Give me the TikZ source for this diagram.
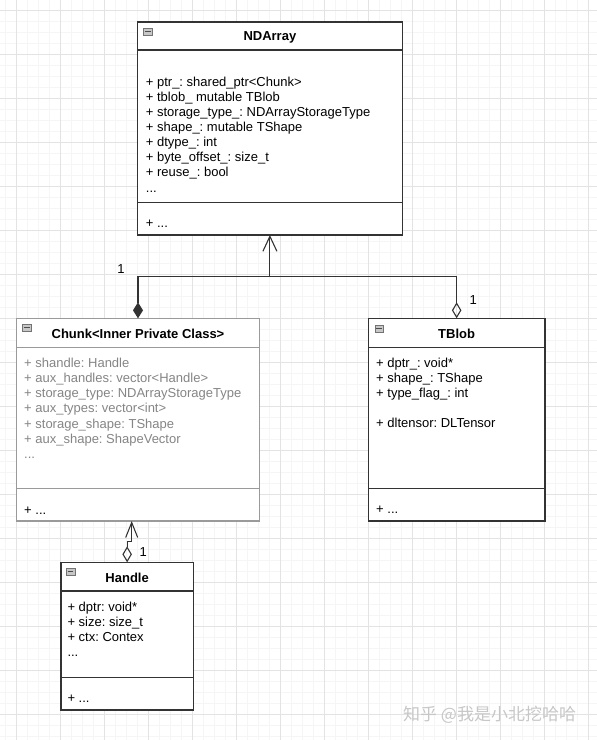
\documentclass[tikz,border=0pt]{standalone}
\usepackage{fontspec}
\setmainfont{Liberation Sans}
\newfontfamily\cjk{Noto Sans CJK SC}
\usetikzlibrary{arrows.meta}
\frenchspacing
\definecolor{umlline}{HTML}{333333}
\definecolor{umlgray}{HTML}{9A9A9A}
\definecolor{attrgray}{HTML}{858585}
\tikzset{
	classbox/.style={draw=#1, line width=1.1pt, fill=white, inner sep=0pt, outer sep=0pt},
	classbox/.default=umlline,
	boxline/.style={draw=#1, line width=1.1pt},
	boxline/.default=umlline,
	attr/.style={anchor=base west, inner sep=0pt, font=\fontsize{13}{15}\selectfont},
	title/.style={anchor=base, inner sep=0pt, font=\bfseries\fontsize{13}{15}\selectfont},
	mult/.style={inner sep=0pt, font=\fontsize{13}{15}\selectfont},
	toggle/.style={draw=black!55, fill=black!22, line width=0.4pt, minimum width=8.5pt, minimum height=7pt, inner sep=0pt, anchor=north west,
		path picture={\draw[black!70, line width=0.9pt] ([xshift=1.4pt]path picture bounding box.west) -- ([xshift=-1.4pt]path picture bounding box.east);}},
	link/.style={draw=umlline, line width=1.1pt},
	comp/.style={link, {Diamond[length=16pt,width=10pt]}-{Straight Barb[length=15pt,width=14pt]}},
	aggr/.style={link, {Diamond[open,length=16pt,width=9.5pt]}-},
	aggrto/.style={link, {Diamond[open,length=16pt,width=9.5pt]}-{Straight Barb[length=15pt,width=12pt]}}
}
\begin{document}
\begin{tikzpicture}[x=1pt, y=-1pt]
	\useasboundingbox (0,0) rectangle (597,740);
	\fill[white] (0,0) rectangle (597,740);
	% grid
	\begin{scope}[x=1pt, y=1pt]
		\draw[black!4, line width=0.5pt, xshift=5.7pt, yshift=-10pt, step=11pt] (-5.7,-730) grid (591.3,10);
		\draw[black!11, line width=0.5pt, xshift=16.7pt, yshift=-10pt, step=44pt] (-16.7,-730) grid (580.3,10);
	\end{scope}

	% NDArray
	\node[classbox, minimum width=264.8pt, minimum height=213pt] (ndarray) at (269.9,128.5) {};
	\draw[boxline] (ndarray.west |- 0,50) -- (ndarray.east |- 0,50);
	\draw[boxline] (ndarray.west |- 0,202.7) -- (ndarray.east |- 0,202.7);
	\node[toggle] (ndicon) at (143.3,27.5) {};
	\node[title] (ndtitle) at (269.9,40.8) {NDArray};
	\node[attr] (nd1) at (145.7,86.3) {+ ptr\_: shared\_ptr<Chunk>};
	\node[attr] (nd2) at (145.7,101.4) {+ tblob\_ mutable TBlob};
	\node[attr] (nd3) at (145.7,116.5) {+ storage\_type\_: NDArrayStorageType};
	\node[attr] (nd4) at (145.7,131.6) {+ shape\_: mutable TShape};
	\node[attr] (nd5) at (145.7,146.7) {+ dtype\_: int};
	\node[attr] (nd6) at (145.7,161.8) {+ byte\_offset\_: size\_t};
	\node[attr] (nd7) at (145.7,176.9) {+ reuse\_: bool};
	\node[attr] (nd8) at (145.7,192) {...};
	\node[attr] (ndop) at (145.7,227.5) {+ ...};

	% Chunk
	\node[classbox=umlgray, minimum width=242.6pt, minimum height=202.7pt] (chunk) at (138,419.65) {};
	\draw[boxline=umlgray] (chunk.west |- 0,347.3) -- (chunk.east |- 0,347.3);
	\draw[boxline=umlgray] (chunk.west |- 0,488.3) -- (chunk.east |- 0,488.3);
	\node[toggle] (chicon) at (22.3,324) {};
	\node[title] (chtitle) at (138,338.6) {Chunk<Inner Private Class>};
	\node[attr, text=attrgray] (ch1) at (24,367.2) {+ shandle: Handle};
	\node[attr, text=attrgray] (ch2) at (24,382.4) {+ aux\_handles: vector<Handle>};
	\node[attr, text=attrgray] (ch3) at (24,397.6) {+ storage\_type: NDArrayStorageType};
	\node[attr, text=attrgray] (ch4) at (24,412.8) {+ aux\_types: vector<int>};
	\node[attr, text=attrgray] (ch5) at (24,428) {+ storage\_shape: TShape};
	\node[attr, text=attrgray] (ch6) at (24,443.2) {+ aux\_shape: ShapeVector};
	\node[attr, text=attrgray] (ch7) at (24,458.4) {...};
	\node[attr] (chop) at (24,514) {+ ...};

	% TBlob
	\node[classbox, minimum width=176.7pt, minimum height=202.7pt] (tblob) at (456.65,419.65) {};
	\draw[boxline] (tblob.west |- 0,347.3) -- (tblob.east |- 0,347.3);
	\draw[boxline] (tblob.west |- 0,488.3) -- (tblob.east |- 0,488.3);
	\node[toggle] (tbicon) at (374.5,324.5) {};
	\node[title] (tbtitle) at (456.65,338.3) {TBlob};
	\node[attr] (tb1) at (376,367.2) {+ dptr\_: void*};
	\node[attr] (tb2) at (376,382.2) {+ shape\_: TShape};
	\node[attr] (tb3) at (376,397.2) {+ type\_flag\_: int};
	\node[attr] (tb4) at (376,427.6) {+ dltensor: DLTensor};
	\node[attr] (tbop) at (376,513.6) {+ ...};

	% Handle
	\node[classbox, minimum width=132.3pt, minimum height=147.7pt] (handle) at (127.15,636.15) {};
	\draw[boxline] (handle.west |- 0,591) -- (handle.east |- 0,591);
	\draw[boxline] (handle.west |- 0,677.7) -- (handle.east |- 0,677.7);
	\node[toggle] (haicon) at (66,567.5) {};
	\node[title] (hatitle) at (127.15,582) {Handle};
	\node[attr] (ha1) at (67.3,611.7) {+ dptr: void*};
	\node[attr] (ha2) at (67.3,626.7) {+ size: size\_t};
	\node[attr] (ha3) at (67.3,641.7) {+ ctx: Contex};
	\node[attr] (ha4) at (67.3,656.7) {...};
	\node[attr] (haop) at (67.3,702) {+ ...};

	% connectors
	\coordinate (trunk) at (ndarray.south |- 0,276.7);
	\coordinate (jog) at (131.7,541.7);
	\draw[comp] (chunk.north) |- (trunk) -- (ndarray.south);
	\draw[aggr] (tblob.north) |- (trunk);
	\draw[aggrto] (handle.north) |- (jog) -- (jog |- chunk.south);
	\node[mult] (m1) at (121,269) {1};
	\node[mult] (m2) at (473.3,300) {1};
	\node[mult] (m3) at (143.3,551.7) {1};

	% watermark
	\node[anchor=base west, inner sep=0pt, text=black!22, font=\cjk\fontsize{17}{17}\selectfont] (mark) at (403,720.5) {知乎 @我是小北挖哈哈};
\end{tikzpicture}
\end{document}
